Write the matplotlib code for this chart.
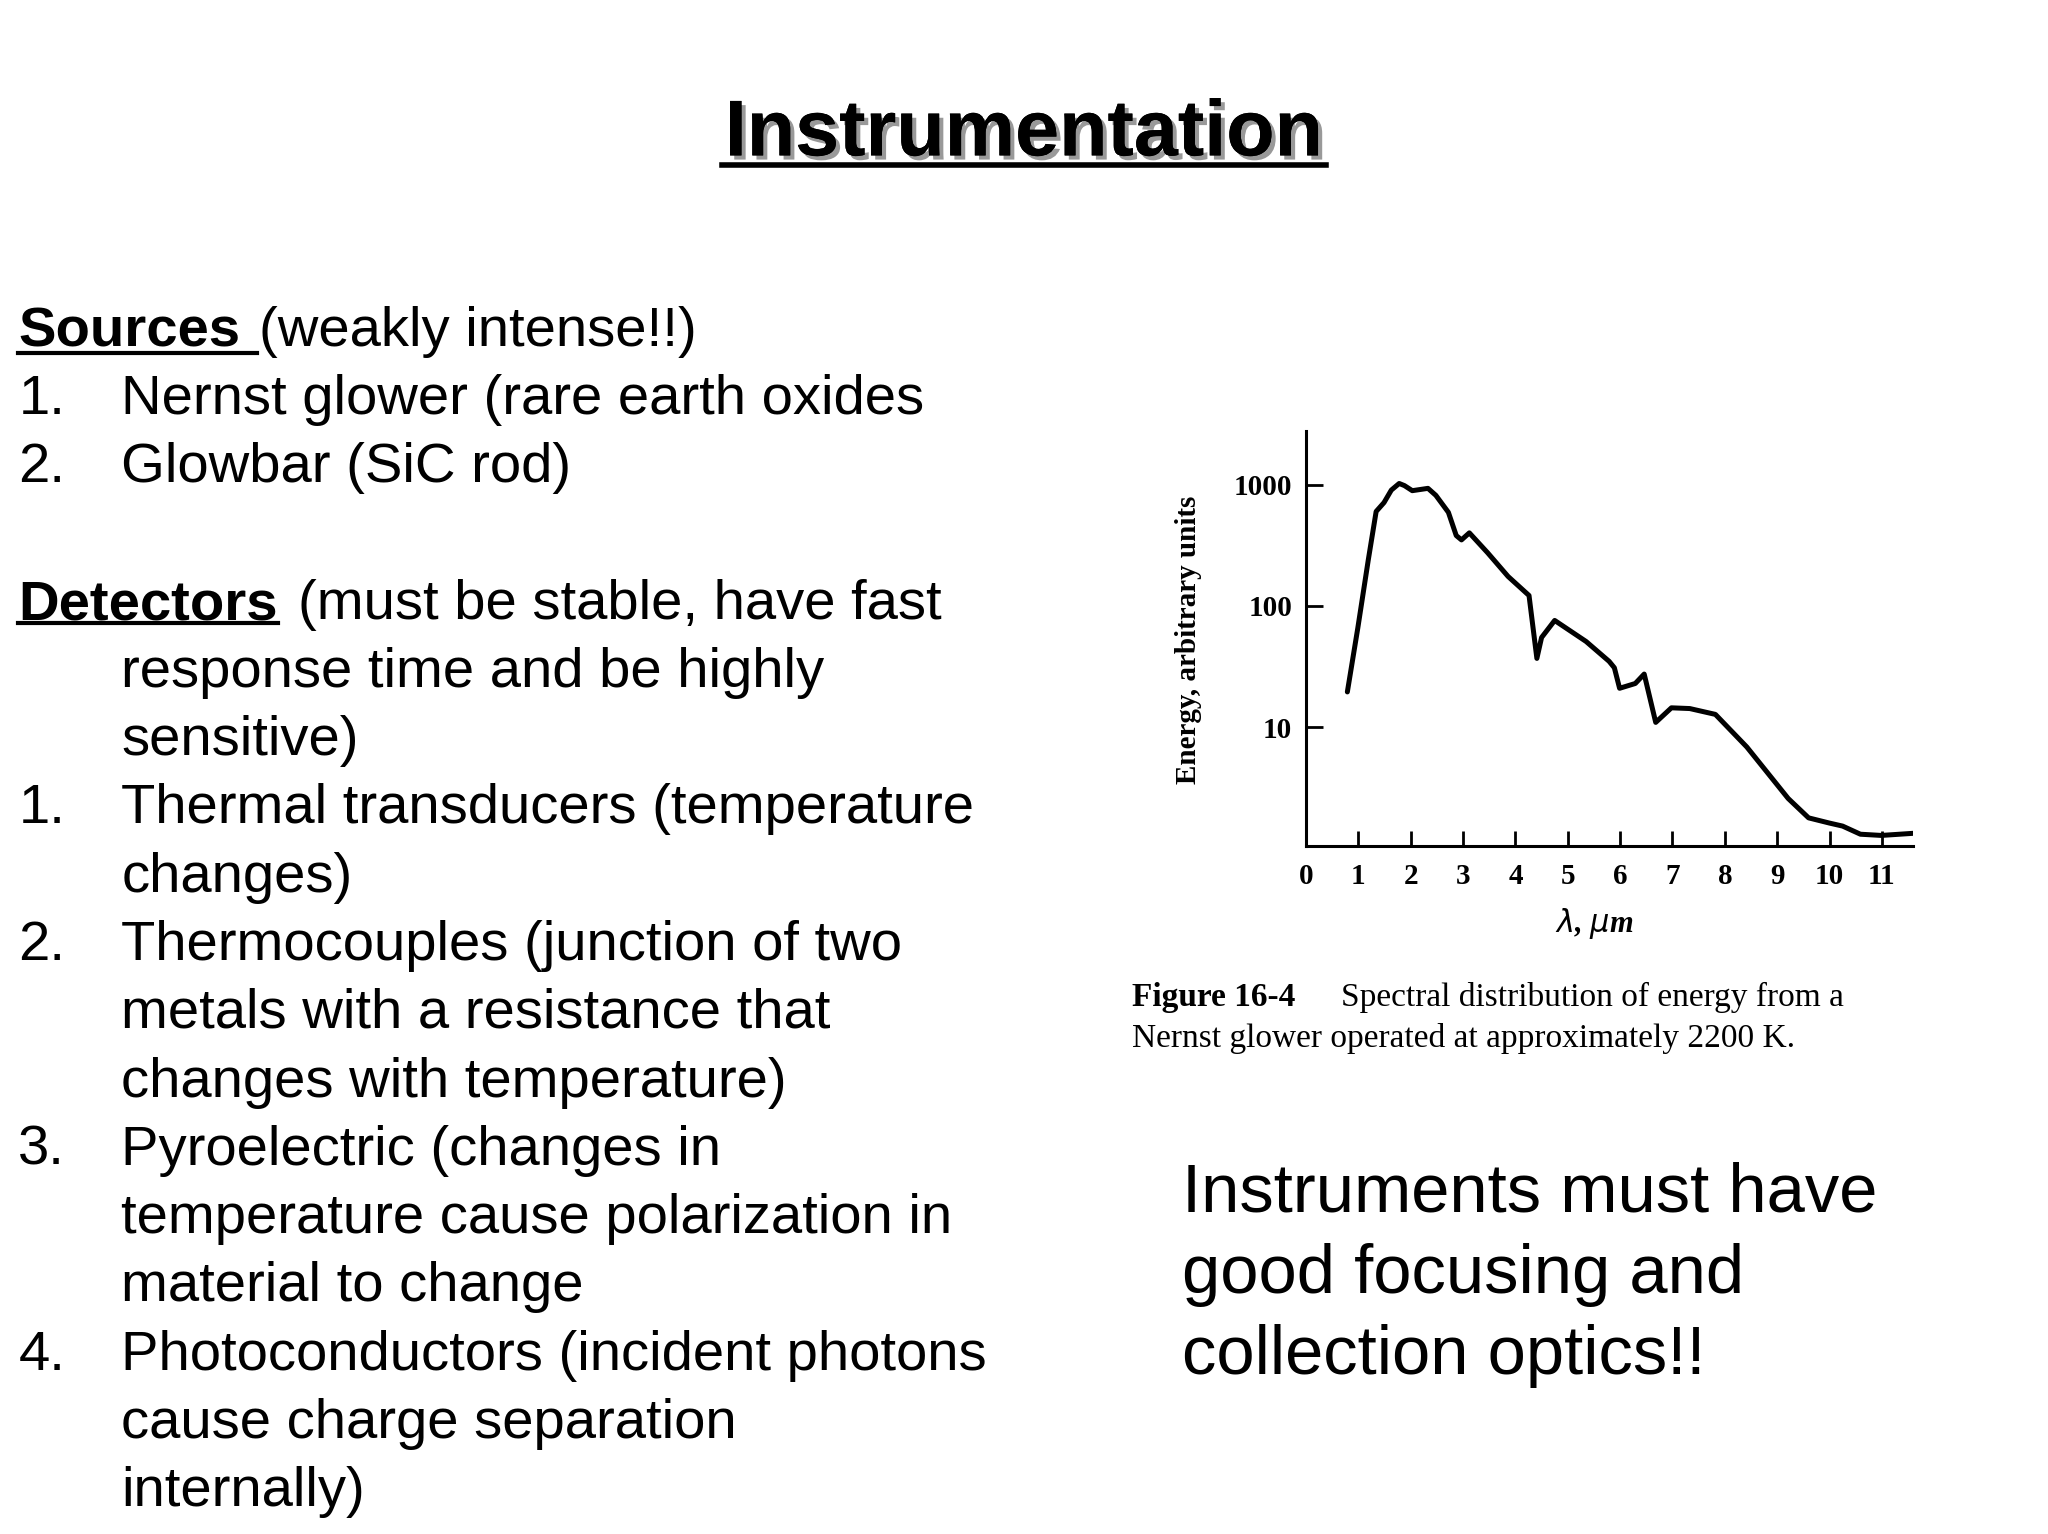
import matplotlib
matplotlib.use("Agg")
import matplotlib.pyplot as plt
from matplotlib.lines import Line2D
import matplotlib.patheffects as pe

wavelength = [0.79, 0.99, 1.19, 1.34, 1.49, 1.63, 1.78, 1.88, 2.03, 2.33, 2.48, 2.72, 2.87, 2.97,
              3.12, 3.47, 3.86, 4.26, 4.41, 4.50, 4.75, 5.35, 5.79, 5.89, 5.99, 6.29, 6.46,
              6.68, 6.98, 7.33, 7.82, 8.42, 9.21, 9.60, 10.0, 10.25, 10.59, 10.99, 11.68]
energy = [19.6, 66, 240, 600, 710, 900, 1020, 980, 890, 930, 815, 590, 380, 350,
          400, 274, 175, 122, 37, 55, 76, 51, 35, 31, 21, 23, 27.5,
          11, 14.5, 14.3, 12.8, 6.9, 2.6, 1.8, 1.63, 1.54, 1.32, 1.29, 1.35]
xticks = list(range(0, 12))
yticks = [10, 100, 1000]

W, H = 2048, 1534
S = 1.306
fig = plt.figure(figsize=(W / 100, H / 100), dpi=100)
fig.patch.set_facecolor("white")

def fx(x): return x * S / W
def fy(y): return 1 - y * S / H

def txt(x, y, s, **kw):
    return fig.text(fx(x), fy(y), s, va="baseline", **kw)

def uline(x0, x1, y, lw=3):
    fig.add_artist(Line2D([fx(x0), fx(x1)], [fy(y), fy(y)], color="black", lw=lw,
                          transform=fig.transFigure))

sans = "Liberation Sans"
txt(784, 119, "Instrumentation", fontsize=57, fontweight="bold", family=sans, ha="center",
    path_effects=[pe.withSimplePatchShadow(offset=(3, -3), shadow_rgbFace="#999999", alpha=1), pe.Normal()])
uline(553, 1015, 126, lw=4)

fs = 40.5
lines = [
    (317, "1.", "Nernst glower (rare earth oxides"),
    (369, "2.", "Glowbar (SiC rod)"),
    (526, "", "response time and be highly"),
    (578, "", "sensitive)"),
    (630, "1.", "Thermal transducers (temperature"),
    (683, "", "changes)"),
    (735, "2.", "Thermocouples (junction of two"),
    (787, "", "metals with a resistance that"),
    (840, "", "changes with temperature)"),
    (892, "3.", "Pyroelectric (changes in"),
    (944, "", "temperature cause polarization in"),
    (996, "", "material to change"),
    (1049, "4.", "Photoconductors (incident photons"),
    (1101, "", "cause charge separation"),
    (1153, "", "internally)"),
]
for y, num, s in lines:
    if num:
        txt(14, y, num, fontsize=fs, family=sans)
    txt(93, y, s, fontsize=fs, family=sans)

txt(14, 265, "Sources", fontsize=fs, family=sans, fontweight="bold")
txt(198, 265, "(weakly intense!!)", fontsize=fs, family=sans)
uline(14, 197, 270)
txt(14, 474, "Detectors", fontsize=fs, family=sans, fontweight="bold")
txt(228, 474, "(must be stable, have fast", fontsize=fs, family=sans)
uline(14, 213, 477)

for y, s in [(928, "Instruments must have"), (990, "good focusing and"), (1052, "collection optics!!")]:
    txt(905, y, s, fontsize=49.5, family=sans)

serif = "Liberation Serif"
txt(867, 770, "Figure 16-4", fontsize=24, family=serif, fontweight="bold")
txt(1027, 770, "Spectral distribution of energy from a", fontsize=24, family=serif)
txt(867, 802, "Nernst glower operated at approximately 2200 K.", fontsize=24, family=serif)

ax = fig.add_axes([fx(1000), fy(648), fx(1465) - fx(1000), fy(330) - fy(648)])
ax.plot(wavelength, energy, color="black", lw=3.6, solid_capstyle="round", solid_joinstyle="round")
ax.set_yscale("log")
ax.set_xlim(0, 11.6)
ax.set_ylim(1.05, 2760)
ax.set_xticks(xticks)
ax.set_xticklabels([str(v) for v in xticks])
ax.set_yticks(yticks)
ax.set_yticklabels([str(v) for v in yticks])
ax.minorticks_off()
for sp in ["top", "right"]:
    ax.spines[sp].set_visible(False)
for sp in ["left", "bottom"]:
    ax.spines[sp].set_linewidth(2.2)
ax.tick_params(axis="x", direction="in", length=11, width=2, pad=12, labelsize=21)
ax.tick_params(axis="y", direction="in", length=12, width=2, pad=10, labelsize=21)
ax.xaxis.get_major_ticks()[0].tick1line.set_visible(False)
for lab in ax.get_xticklabels() + ax.get_yticklabels():
    lab.set_family(serif)
    lab.set_fontweight("bold")
ax.set_facecolor("none")
fig.text(fx(910), fy(490), "Energy, arbitrary units", rotation=90, ha="center", va="center",
         fontsize=21, family=serif, fontweight="bold")
fig.text(fx(1221), fy(707), r"$\lambda$, $\mu$m", ha="center", va="center", fontsize=22,
         family=serif, fontweight="bold", fontstyle="italic")

fig.savefig("out.png", dpi=100, facecolor="white")
